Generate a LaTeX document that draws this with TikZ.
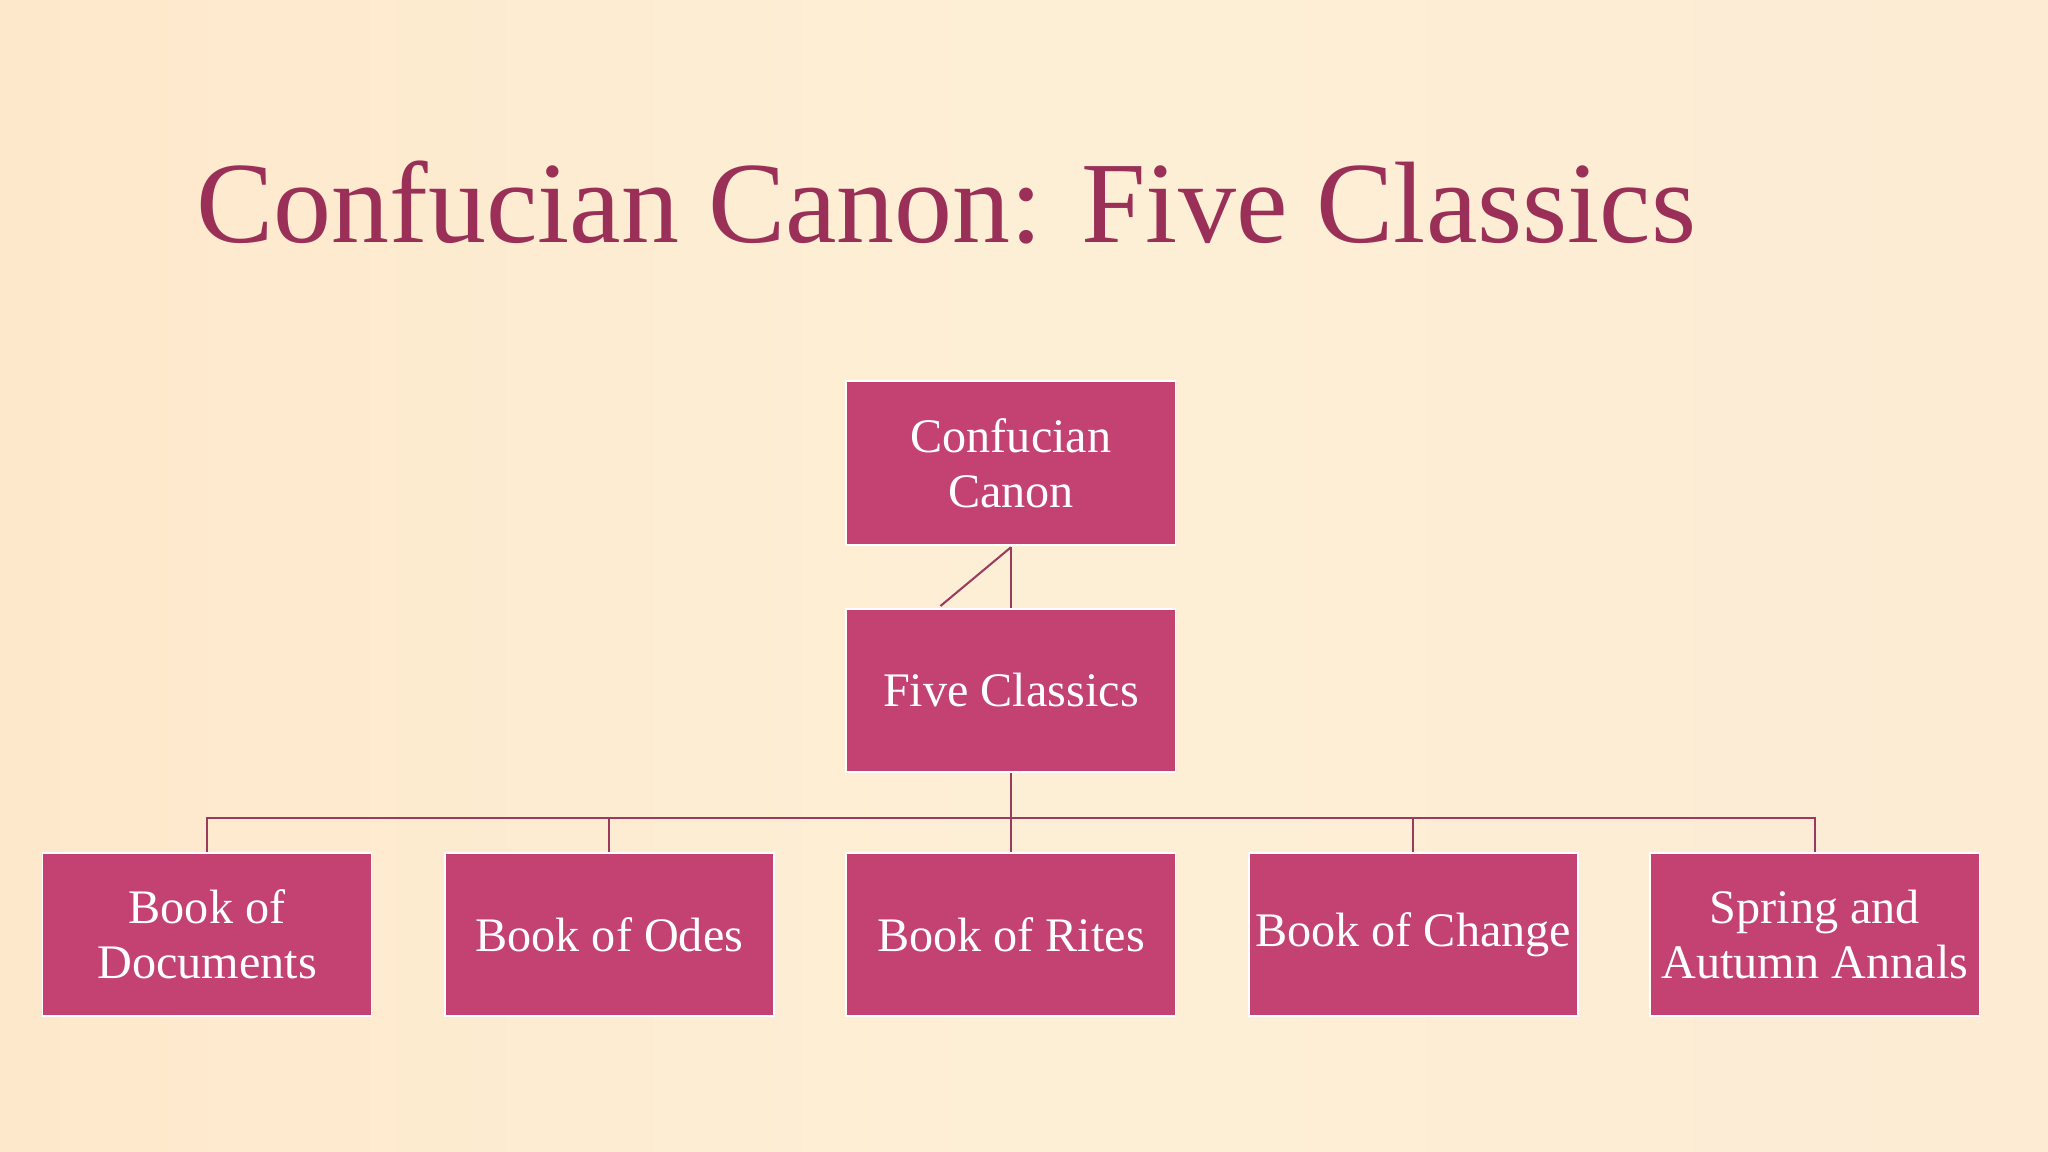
\documentclass[tikz,border=0pt]{standalone}
\usepackage{fontspec}
\setmainfont{Liberation Serif}
\definecolor{bg}{HTML}{FDEFD6}
\definecolor{boxc}{HTML}{C44272}
\definecolor{titlec}{HTML}{9A2F58}
\definecolor{linec}{HTML}{9A3A5E}
\begin{document}
\begin{tikzpicture}[x=0.02cm,y=-0.02cm,
  box/.style={draw=white,line width=0.8pt,fill=boxc,text=white,minimum width=5.04cm,minimum height=2.5cm,align=center,inner sep=1pt,font=\fontsize{21}{24}\selectfont},
  conn/.style={draw=linec,line width=0.9pt}]
\useasboundingbox (0,0) rectangle (1568,882);
\shade[left color=bg!85!orange!70, right color=bg!92!pink, middle color=bg] (0,0) rectangle (1568,882);
\node[anchor=base west,text=titlec,font=\fontsize{50.5}{58}\selectfont,inner sep=0] (title) at (150,186) {Confucian Canon: Five Classics};
\node[box] (canon) at (774,354.5) {Confucian\\Canon};
\node[box] (five) at (774,528.5) {Five Classics};
\node[box] (b1) at (158.5,715.5) {Book of\\Documents};
\node[box] (b2) at (466.5,715.5) {Book of Odes};
\node[box] (b3) at (774,715.5) {Book of Rites};
\node[box] (b4) at (1082,715.5) {Book of Change};
\node[box] (b5) at (1389.5,715.5) {Spring and\\Autumn Annals};
\coordinate (j) at (774,419);
\coordinate (d) at (720,464);
\draw[conn] (j) -- (five.north);
\draw[conn] (j) -- (d);
\coordinate (h) at (774,626);
\draw[conn] (five.south) -- (b3.north);
\draw[conn] (b1.north) |- (h) -| (b5.north);
\draw[conn] (b2.north) -- ++(0,-27);
\draw[conn] (b4.north) -- ++(0,-27);
\end{tikzpicture}
\end{document}
